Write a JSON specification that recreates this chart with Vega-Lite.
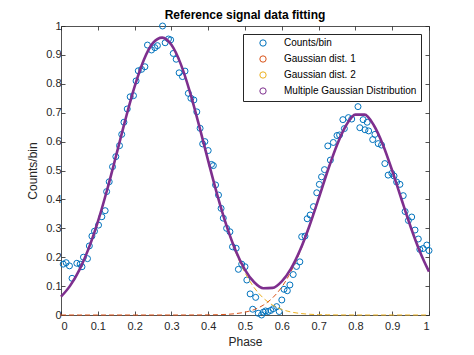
{
  "$schema": "https://vega.github.io/schema/vega-lite/v6.json",
  "width": 368,
  "height": 289,
  "autosize": {"type": "none"},
  "padding": {"left": 61, "top": 26, "right": 45, "bottom": 40},
  "background": "white",
  "title": {"text": "Reference signal data fitting", "font": "Liberation Sans", "fontSize": 12, "fontWeight": "bold", "color": "black", "offset": -2},
  "config": {
    "view": {"stroke": null},
    "axis": {"grid": false, "domainColor": "#262626", "tickColor": "#262626", "labelColor": "#262626", "titleColor": "#262626", "labelFont": "Liberation Sans", "titleFont": "Liberation Sans", "labelFontSize": 11, "titleFontSize": 12, "titleFontWeight": "normal", "tickSize": -4, "domainWidth": 0.8, "tickWidth": 0.8},
    "legend": {"orient": "top-right", "offset": 8, "strokeColor": "#262626", "fillColor": "white", "padding": 4,
      "labelFont": "Liberation Sans", "labelFontSize": 10, "labelColor": "black", "symbolSize": 40, "symbolOffset": 11, "labelOffset": 16, "rowPadding": 4, "symbolStrokeWidth": 1}
  },
  "datasets": {
    "obs": [
      {"phase":0.006,"counts":0.176,"series":"Counts/bin"},{"phase":0.014,"counts":0.181,"series":"Counts/bin"},{"phase":0.023,"counts":0.170,"series":"Counts/bin"},{"phase":0.030,"counts":0.127,"series":"Counts/bin"},
      {"phase":0.043,"counts":0.179,"series":"Counts/bin"},{"phase":0.052,"counts":0.176,"series":"Counts/bin"},{"phase":0.057,"counts":0.167,"series":"Counts/bin"},{"phase":0.061,"counts":0.200,"series":"Counts/bin"},
      {"phase":0.072,"counts":0.195,"series":"Counts/bin"},{"phase":0.077,"counts":0.239,"series":"Counts/bin"},{"phase":0.084,"counts":0.273,"series":"Counts/bin"},{"phase":0.091,"counts":0.290,"series":"Counts/bin"},
      {"phase":0.102,"counts":0.311,"series":"Counts/bin"},{"phase":0.111,"counts":0.340,"series":"Counts/bin"},{"phase":0.120,"counts":0.361,"series":"Counts/bin"},{"phase":0.124,"counts":0.427,"series":"Counts/bin"},
      {"phase":0.131,"counts":0.461,"series":"Counts/bin"},{"phase":0.140,"counts":0.513,"series":"Counts/bin"},{"phase":0.149,"counts":0.548,"series":"Counts/bin"},{"phase":0.159,"counts":0.586,"series":"Counts/bin"},
      {"phase":0.165,"counts":0.625,"series":"Counts/bin"},{"phase":0.171,"counts":0.667,"series":"Counts/bin"},{"phase":0.180,"counts":0.713,"series":"Counts/bin"},{"phase":0.188,"counts":0.755,"series":"Counts/bin"},
      {"phase":0.197,"counts":0.759,"series":"Counts/bin"},{"phase":0.204,"counts":0.810,"series":"Counts/bin"},{"phase":0.210,"counts":0.845,"series":"Counts/bin"},{"phase":0.219,"counts":0.850,"series":"Counts/bin"},
      {"phase":0.228,"counts":0.859,"series":"Counts/bin"},{"phase":0.235,"counts":0.934,"series":"Counts/bin"},{"phase":0.246,"counts":0.917,"series":"Counts/bin"},{"phase":0.255,"counts":0.925,"series":"Counts/bin"},
      {"phase":0.262,"counts":0.932,"series":"Counts/bin"},{"phase":0.276,"counts":1.000,"series":"Counts/bin"},{"phase":0.283,"counts":0.942,"series":"Counts/bin"},{"phase":0.292,"counts":0.955,"series":"Counts/bin"},
      {"phase":0.298,"counts":0.952,"series":"Counts/bin"},{"phase":0.305,"counts":0.905,"series":"Counts/bin"},{"phase":0.313,"counts":0.885,"series":"Counts/bin"},{"phase":0.321,"counts":0.838,"series":"Counts/bin"},
      {"phase":0.330,"counts":0.825,"series":"Counts/bin"},{"phase":0.337,"counts":0.844,"series":"Counts/bin"},{"phase":0.346,"counts":0.767,"series":"Counts/bin"},{"phase":0.353,"counts":0.750,"series":"Counts/bin"},
      {"phase":0.361,"counts":0.744,"series":"Counts/bin"},{"phase":0.369,"counts":0.703,"series":"Counts/bin"},{"phase":0.378,"counts":0.646,"series":"Counts/bin"},{"phase":0.385,"counts":0.592,"series":"Counts/bin"},
      {"phase":0.391,"counts":0.600,"series":"Counts/bin"},{"phase":0.400,"counts":0.569,"series":"Counts/bin"},{"phase":0.409,"counts":0.521,"series":"Counts/bin"},{"phase":0.414,"counts":0.517,"series":"Counts/bin"},
      {"phase":0.420,"counts":0.450,"series":"Counts/bin"},{"phase":0.428,"counts":0.415,"series":"Counts/bin"},{"phase":0.435,"counts":0.369,"series":"Counts/bin"},{"phase":0.441,"counts":0.335,"series":"Counts/bin"},
      {"phase":0.450,"counts":0.300,"series":"Counts/bin"},{"phase":0.459,"counts":0.288,"series":"Counts/bin"},{"phase":0.466,"counts":0.236,"series":"Counts/bin"},{"phase":0.476,"counts":0.231,"series":"Counts/bin"},
      {"phase":0.482,"counts":0.158,"series":"Counts/bin"},{"phase":0.491,"counts":0.176,"series":"Counts/bin"},{"phase":0.500,"counts":0.167,"series":"Counts/bin"},{"phase":0.505,"counts":0.121,"series":"Counts/bin"},
      {"phase":0.514,"counts":0.073,"series":"Counts/bin"},{"phase":0.521,"counts":0.020,"series":"Counts/bin"},{"phase":0.529,"counts":0.061,"series":"Counts/bin"},{"phase":0.536,"counts":0.006,"series":"Counts/bin"},
      {"phase":0.545,"counts":0.000,"series":"Counts/bin"},{"phase":0.550,"counts":0.010,"series":"Counts/bin"},{"phase":0.556,"counts":0.014,"series":"Counts/bin"},{"phase":0.563,"counts":0.012,"series":"Counts/bin"},
      {"phase":0.570,"counts":0.016,"series":"Counts/bin"},{"phase":0.577,"counts":0.022,"series":"Counts/bin"},{"phase":0.586,"counts":0.029,"series":"Counts/bin"},{"phase":0.593,"counts":0.012,"series":"Counts/bin"},
      {"phase":0.600,"counts":0.052,"series":"Counts/bin"},{"phase":0.606,"counts":0.089,"series":"Counts/bin"},{"phase":0.615,"counts":0.084,"series":"Counts/bin"},{"phase":0.622,"counts":0.104,"series":"Counts/bin"},
      {"phase":0.631,"counts":0.140,"series":"Counts/bin"},{"phase":0.640,"counts":0.168,"series":"Counts/bin"},{"phase":0.649,"counts":0.184,"series":"Counts/bin"},{"phase":0.654,"counts":0.271,"series":"Counts/bin"},
      {"phase":0.663,"counts":0.273,"series":"Counts/bin"},{"phase":0.669,"counts":0.333,"series":"Counts/bin"},{"phase":0.677,"counts":0.346,"series":"Counts/bin"},{"phase":0.686,"counts":0.375,"series":"Counts/bin"},
      {"phase":0.695,"counts":0.423,"series":"Counts/bin"},{"phase":0.702,"counts":0.452,"series":"Counts/bin"},{"phase":0.708,"counts":0.478,"series":"Counts/bin"},{"phase":0.716,"counts":0.503,"series":"Counts/bin"},
      {"phase":0.725,"counts":0.585,"series":"Counts/bin"},{"phase":0.732,"counts":0.536,"series":"Counts/bin"},{"phase":0.740,"counts":0.597,"series":"Counts/bin"},{"phase":0.750,"counts":0.621,"series":"Counts/bin"},
      {"phase":0.757,"counts":0.623,"series":"Counts/bin"},{"phase":0.766,"counts":0.676,"series":"Counts/bin"},{"phase":0.770,"counts":0.645,"series":"Counts/bin"},{"phase":0.781,"counts":0.683,"series":"Counts/bin"},
      {"phase":0.790,"counts":0.678,"series":"Counts/bin"},{"phase":0.807,"counts":0.721,"series":"Counts/bin"},{"phase":0.812,"counts":0.648,"series":"Counts/bin"},{"phase":0.821,"counts":0.676,"series":"Counts/bin"},
      {"phase":0.826,"counts":0.641,"series":"Counts/bin"},{"phase":0.832,"counts":0.667,"series":"Counts/bin"},{"phase":0.836,"counts":0.637,"series":"Counts/bin"},{"phase":0.847,"counts":0.607,"series":"Counts/bin"},
      {"phase":0.853,"counts":0.625,"series":"Counts/bin"},{"phase":0.862,"counts":0.593,"series":"Counts/bin"},{"phase":0.871,"counts":0.588,"series":"Counts/bin"},{"phase":0.880,"counts":0.524,"series":"Counts/bin"},
      {"phase":0.889,"counts":0.484,"series":"Counts/bin"},{"phase":0.899,"counts":0.490,"series":"Counts/bin"},{"phase":0.905,"counts":0.481,"series":"Counts/bin"},{"phase":0.912,"counts":0.460,"series":"Counts/bin"},
      {"phase":0.921,"counts":0.452,"series":"Counts/bin"},{"phase":0.930,"counts":0.413,"series":"Counts/bin"},{"phase":0.935,"counts":0.358,"series":"Counts/bin"},{"phase":0.944,"counts":0.327,"series":"Counts/bin"},
      {"phase":0.953,"counts":0.339,"series":"Counts/bin"},{"phase":0.962,"counts":0.294,"series":"Counts/bin"},{"phase":0.971,"counts":0.263,"series":"Counts/bin"},{"phase":0.975,"counts":0.227,"series":"Counts/bin"},
      {"phase":0.984,"counts":0.230,"series":"Counts/bin"},{"phase":0.994,"counts":0.242,"series":"Counts/bin"},{"phase":1.000,"counts":0.223,"series":"Counts/bin"}
    ],
    "comp": [
      {"phase":0,"counts":0,"series":"Gaussian dist. 1"},{"phase":0.05,"counts":0,"series":"Gaussian dist. 1"},{"phase":0.1,"counts":0,"series":"Gaussian dist. 1"},
      {"phase":0.15,"counts":0,"series":"Gaussian dist. 1"},{"phase":0.2,"counts":0,"series":"Gaussian dist. 1"},{"phase":0.25,"counts":0,"series":"Gaussian dist. 1"},
      {"phase":0.3,"counts":0,"series":"Gaussian dist. 1"},{"phase":0.325,"counts":0,"series":"Gaussian dist. 1"},{"phase":0.35,"counts":0.0001,"series":"Gaussian dist. 1"},
      {"phase":0.375,"counts":0.0002,"series":"Gaussian dist. 1"},{"phase":0.4,"counts":0.0004,"series":"Gaussian dist. 1"},{"phase":0.425,"counts":0.0010,"series":"Gaussian dist. 1"},
      {"phase":0.45,"counts":0.0022,"series":"Gaussian dist. 1"},{"phase":0.475,"counts":0.0048,"series":"Gaussian dist. 1"},{"phase":0.5,"counts":0.0098,"series":"Gaussian dist. 1"},
      {"phase":0.525,"counts":0.0188,"series":"Gaussian dist. 1"},{"phase":0.55,"counts":0.0343,"series":"Gaussian dist. 1"},{"phase":0.575,"counts":0.0593,"series":"Gaussian dist. 1"},
      {"phase":0.6,"counts":0.0969,"series":"Gaussian dist. 1"},{"phase":0.625,"counts":0.1501,"series":"Gaussian dist. 1"},{"phase":0.65,"counts":0.2200,"series":"Gaussian dist. 1"},
      {"phase":0.675,"counts":0.3054,"series":"Gaussian dist. 1"},{"phase":0.7,"counts":0.4013,"series":"Gaussian dist. 1"},{"phase":0.725,"counts":0.4994,"series":"Gaussian dist. 1"},
      {"phase":0.75,"counts":0.5884,"series":"Gaussian dist. 1"},{"phase":0.775,"counts":0.6564,"series":"Gaussian dist. 1"},{"phase":0.8,"counts":0.6932,"series":"Gaussian dist. 1"},
      {"phase":0.825,"counts":0.6932,"series":"Gaussian dist. 1"},{"phase":0.85,"counts":0.6564,"series":"Gaussian dist. 1"},{"phase":0.875,"counts":0.5884,"series":"Gaussian dist. 1"},
      {"phase":0.9,"counts":0.4994,"series":"Gaussian dist. 1"},{"phase":0.925,"counts":0.4013,"series":"Gaussian dist. 1"},{"phase":0.95,"counts":0.3054,"series":"Gaussian dist. 1"},
      {"phase":0.975,"counts":0.2200,"series":"Gaussian dist. 1"},{"phase":1,"counts":0.1501,"series":"Gaussian dist. 1"},
      {"phase":0,"counts":0.0632,"series":"Gaussian dist. 2"},{"phase":0.025,"counts":0.1017,"series":"Gaussian dist. 2"},{"phase":0.05,"counts":0.1564,"series":"Gaussian dist. 2"},
      {"phase":0.075,"counts":0.2296,"series":"Gaussian dist. 2"},{"phase":0.1,"counts":0.3220,"series":"Gaussian dist. 2"},{"phase":0.125,"counts":0.4316,"series":"Gaussian dist. 2"},
      {"phase":0.15,"counts":0.5527,"series":"Gaussian dist. 2"},{"phase":0.175,"counts":0.6762,"series":"Gaussian dist. 2"},{"phase":0.2,"counts":0.7903,"series":"Gaussian dist. 2"},
      {"phase":0.225,"counts":0.8826,"series":"Gaussian dist. 2"},{"phase":0.25,"counts":0.9416,"series":"Gaussian dist. 2"},{"phase":0.275,"counts":0.9599,"series":"Gaussian dist. 2"},
      {"phase":0.3,"counts":0.9348,"series":"Gaussian dist. 2"},{"phase":0.325,"counts":0.8698,"series":"Gaussian dist. 2"},{"phase":0.35,"counts":0.7732,"series":"Gaussian dist. 2"},
      {"phase":0.375,"counts":0.6567,"series":"Gaussian dist. 2"},{"phase":0.4,"counts":0.5329,"series":"Gaussian dist. 2"},{"phase":0.425,"counts":0.4131,"series":"Gaussian dist. 2"},
      {"phase":0.45,"counts":0.3060,"series":"Gaussian dist. 2"},{"phase":0.475,"counts":0.2165,"series":"Gaussian dist. 2"},{"phase":0.5,"counts":0.1464,"series":"Gaussian dist. 2"},
      {"phase":0.525,"counts":0.0946,"series":"Gaussian dist. 2"},{"phase":0.55,"counts":0.0583,"series":"Gaussian dist. 2"},{"phase":0.575,"counts":0.0344,"series":"Gaussian dist. 2"},
      {"phase":0.6,"counts":0.0194,"series":"Gaussian dist. 2"},{"phase":0.625,"counts":0.0104,"series":"Gaussian dist. 2"},{"phase":0.65,"counts":0.0054,"series":"Gaussian dist. 2"},
      {"phase":0.675,"counts":0.0026,"series":"Gaussian dist. 2"},{"phase":0.7,"counts":0.0012,"series":"Gaussian dist. 2"},{"phase":0.725,"counts":0.0006,"series":"Gaussian dist. 2"},
      {"phase":0.75,"counts":0.0002,"series":"Gaussian dist. 2"},{"phase":0.775,"counts":0.0001,"series":"Gaussian dist. 2"},{"phase":0.8,"counts":0,"series":"Gaussian dist. 2"},
      {"phase":0.85,"counts":0,"series":"Gaussian dist. 2"},{"phase":0.9,"counts":0,"series":"Gaussian dist. 2"},{"phase":0.95,"counts":0,"series":"Gaussian dist. 2"},
      {"phase":1,"counts":0,"series":"Gaussian dist. 2"}
    ],
    "total": [
      {"phase":0,"counts":0.0632},{"phase":0.025,"counts":0.1017},{"phase":0.05,"counts":0.1564},{"phase":0.075,"counts":0.2296},
      {"phase":0.1,"counts":0.3220},{"phase":0.125,"counts":0.4316},{"phase":0.15,"counts":0.5527},{"phase":0.175,"counts":0.6762},
      {"phase":0.2,"counts":0.7903},{"phase":0.225,"counts":0.8826},{"phase":0.25,"counts":0.9416},{"phase":0.275,"counts":0.9599},
      {"phase":0.3,"counts":0.9348},{"phase":0.325,"counts":0.8698},{"phase":0.35,"counts":0.7733},{"phase":0.375,"counts":0.6569},
      {"phase":0.4,"counts":0.5333},{"phase":0.425,"counts":0.4141},{"phase":0.45,"counts":0.3082},{"phase":0.475,"counts":0.2213},
      {"phase":0.5,"counts":0.1562},{"phase":0.525,"counts":0.1134},{"phase":0.55,"counts":0.0926},{"phase":0.575,"counts":0.0937},
      {"phase":0.6,"counts":0.1163},{"phase":0.625,"counts":0.1605},{"phase":0.65,"counts":0.2254},{"phase":0.675,"counts":0.3080},
      {"phase":0.7,"counts":0.4025},{"phase":0.725,"counts":0.5000},{"phase":0.75,"counts":0.5886},{"phase":0.775,"counts":0.6565},
      {"phase":0.8,"counts":0.6932},{"phase":0.825,"counts":0.6932},{"phase":0.85,"counts":0.6564},{"phase":0.875,"counts":0.5884},
      {"phase":0.9,"counts":0.4994},{"phase":0.925,"counts":0.4013},{"phase":0.95,"counts":0.3054},{"phase":0.975,"counts":0.2200},
      {"phase":1,"counts":0.1501}
    ]
  },
  "resolve": {"axis": {"x": "independent", "y": "independent"}},
  "layer": [
    {
      "data": {"name": "obs"},
      "mark": {"type": "point", "filled": false, "size": 36, "strokeWidth": 1, "opacity": 1},
      "encoding": {
        "x": {"field": "phase", "type": "quantitative", "scale": {"domain": [0, 1], "nice": false, "zero": false},
              "axis": {"orient": "bottom", "values": [0,0.1,0.2,0.3,0.4,0.5,0.6,0.7,0.8,0.9,1], "format": "~g", "title": "Phase", "labelPadding": 9, "titlePadding": 5}},
        "y": {"field": "counts", "type": "quantitative", "scale": {"domain": [0, 1], "nice": false},
              "axis": {"orient": "left", "values": [0,0.1,0.2,0.3,0.4,0.5,0.6,0.7,0.8,0.9,1], "format": "~g", "title": "Counts/bin", "labelPadding": 4, "titlePadding": 6}},
        "color": {"field": "series", "type": "nominal",
          "scale": {"domain": ["Counts/bin", "Gaussian dist. 1", "Gaussian dist. 2", "Multiple Gaussian Distribution"], "range": ["#0072BD", "#D95319", "#EDB120", "#7E2F8E"]},
          "legend": {"title": null}}
      }
    },
    {
      "data": {"name": "comp"},
      "mark": {"type": "line", "strokeWidth": 1, "strokeDash": [5, 3], "interpolate": "monotone"},
      "encoding": {
        "x": {"field": "phase", "type": "quantitative", "axis": {"orient": "top", "values": [0,0.1,0.2,0.3,0.4,0.5,0.6,0.7,0.8,0.9,1], "labels": false, "title": null}},
        "y": {"field": "counts", "type": "quantitative", "axis": {"orient": "right", "values": [0,0.1,0.2,0.3,0.4,0.5,0.6,0.7,0.8,0.9,1], "labels": false, "title": null}},
        "color": {"field": "series", "type": "nominal", "legend": null}
      }
    },
    {
      "data": {"name": "total"},
      "mark": {"type": "line", "strokeWidth": 2.6, "interpolate": "monotone"},
      "encoding": {
        "x": {"field": "phase", "type": "quantitative", "axis": null},
        "y": {"field": "counts", "type": "quantitative", "axis": null},
        "color": {"datum": "Multiple Gaussian Distribution", "type": "nominal", "legend": null}
      }
    }
  ]
}
